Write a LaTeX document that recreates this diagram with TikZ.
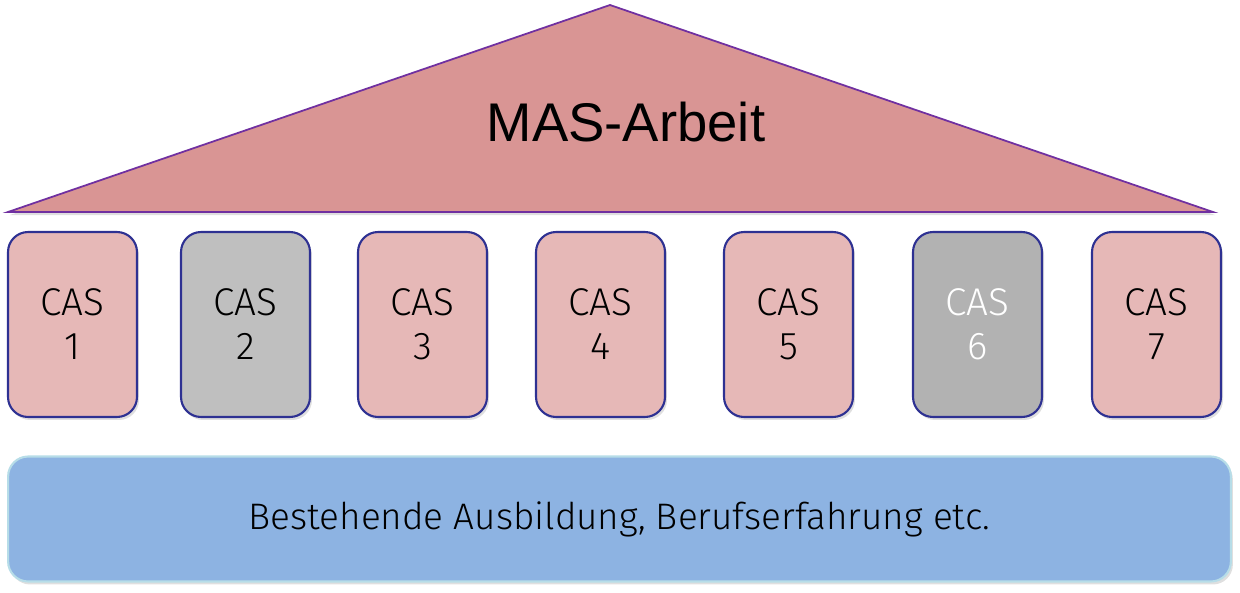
\documentclass[tikz,border=0pt]{standalone}
\usepackage{fontspec}
\setmainfont{Liberation Sans}
\newfontfamily\thinfont{Fira Sans Light}
\usepackage{xcolor}
\usetikzlibrary{shadows}

\definecolor{roofred}{HTML}{D99594}
\definecolor{roofline}{HTML}{7030A0}
\definecolor{caspink}{HTML}{E6B8B7}
\definecolor{casgray}{HTML}{BFBFBF}
\definecolor{casdark}{HTML}{B2B2B2}
\definecolor{casline}{HTML}{2E3192}
\definecolor{basefill}{HTML}{8DB3E2}
\definecolor{baseline}{HTML}{B7DDE8}

\tikzset{
    casbox/.style={draw=casline, line width=1.2pt, rounded corners=0.4cm,
        minimum width=2.58cm, minimum height=3.7cm, align=center,
        font=\thinfont\fontsize{22}{25}\selectfont,
        drop shadow={opacity=0.25, shadow xshift=0.04cm, shadow yshift=-0.06cm}},
    basebox/.style={draw=baseline, line width=1.2pt, fill=basefill, rounded corners=0.4cm,
        minimum width=24.46cm, minimum height=2.5cm,
        font=\thinfont\fontsize{21}{24}\selectfont,
        drop shadow={opacity=0.25, shadow xshift=0.04cm, shadow yshift=-0.06cm}}
}

\begin{document}
\begin{tikzpicture}[x=0.02cm, y=-0.02cm]
        \useasboundingbox (0,0) rectangle (1240,592);

        % roof
        \draw[fill=roofred, draw=roofline, line width=1pt,
            drop shadow={opacity=0.25, shadow xshift=0.04cm, shadow yshift=-0.06cm}]
            (8,212) -- (610,5) -- (1213,212) -- cycle;
        \node[font=\fontsize{31}{36}\selectfont] (mas) at (626,122) {MAS-Arbeit};

        % CAS pillars
        \foreach \n/\x/\c/\t in {1/72.5/caspink/black, 2/245.5/casgray/black,
                3/422.5/caspink/black, 4/600.5/caspink/black, 5/788.5/caspink/black,
                6/977.5/casdark/white, 7/1156.5/caspink/black}
            \node[casbox, fill=\c, text=\t] (cas\n) at (\x,324.5) {CAS\\\n};

        % foundation
        \node[basebox] (base) at (619.5,519) {Bestehende Ausbildung, Berufserfahrung etc.};
    \end{tikzpicture}
\end{document}
